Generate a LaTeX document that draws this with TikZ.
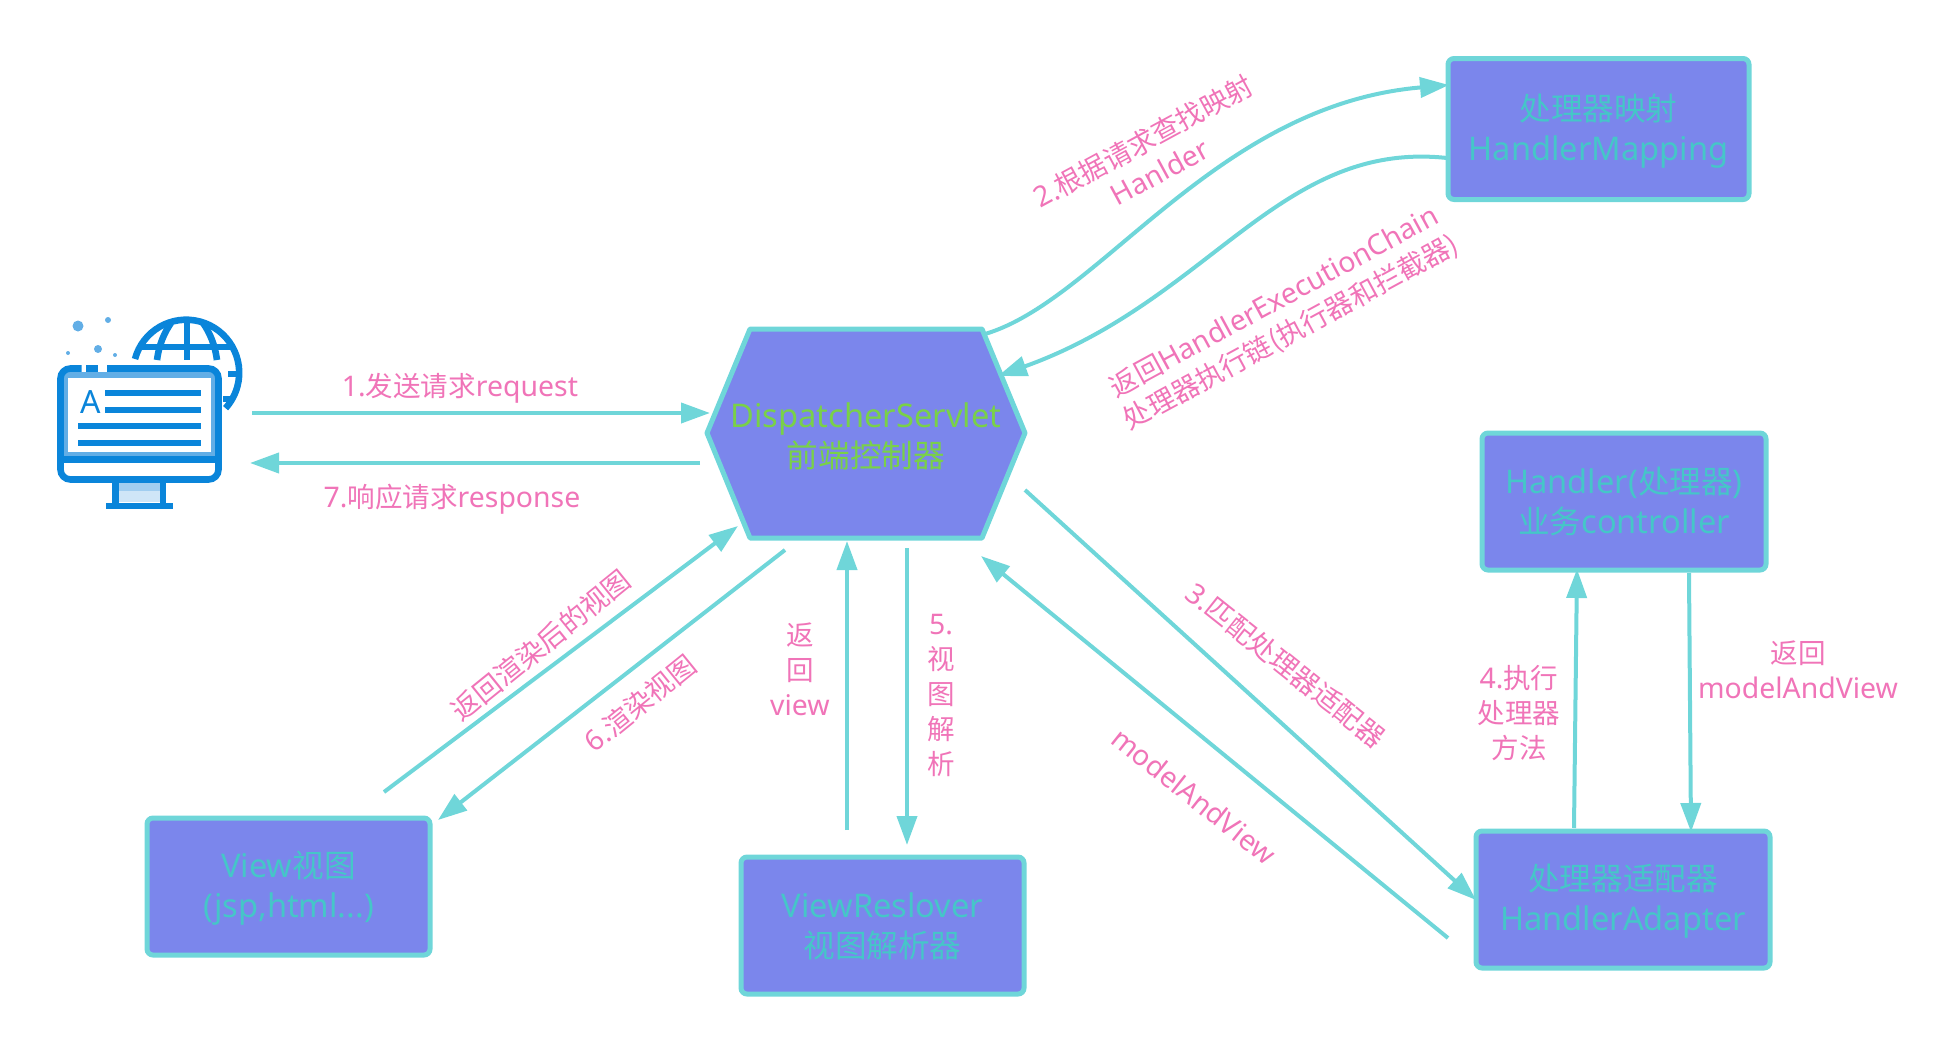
\documentclass[tikz,border=0pt]{standalone}
\usepackage{fontspec}
\setmainfont{Noto Sans}
\newfontfamily\cjk[Scale=0.97]{Noto Sans CJK SC}
\usetikzlibrary{arrows.meta,positioning}
\definecolor{boxfill}{HTML}{7B86EC}
\definecolor{boxline}{HTML}{6FD6D9}
\definecolor{boxtext}{HTML}{45C6C8}
\definecolor{hubtext}{HTML}{79D148}
\definecolor{labeltext}{HTML}{F074B8}
\definecolor{iconblue}{HTML}{0A85DA}
\definecolor{iconmid}{HTML}{62AEE6}
\definecolor{iconpale}{HTML}{CFE6F7}
\newcommand{\twolines}[2]{\rule{0pt}{15pt}#1\\#2\rule[-3pt]{0pt}{3pt}}
\tikzset{
	box/.style = {draw=boxline, line width=2.5pt, fill=boxfill, rounded corners=3pt, text=boxtext, align=center, font=\fontsize{16.3}{20}\selectfont, inner sep=0pt},
	flow/.style = {draw=boxline, line width=2pt, -{Triangle[length=14.5pt,width=10pt]}},
	tag/.style = {text=labeltext, align=center, font=\fontsize{14.2}{17.5}\selectfont, inner sep=0pt},
	iconline/.style = {draw=iconblue, line width=3.3pt},
}
\begin{document}
\begin{tikzpicture}[x=0.5pt,y=-0.5pt]
	\useasboundingbox (0,0) rectangle (1956,1044);
	% boxes
	\node[box, minimum width=150.5pt, minimum height=70.5pt] (mapping) at (1598.5,129) {\twolines{{\cjk 处理器映射}}{HandlerMapping}};
	\node[box, minimum width=142pt, minimum height=68.5pt] (handler) at (1624,501.5) {\twolines{Handler({\cjk 处理器})}{{\cjk 业务}controller}};
	\node[box, minimum width=147pt, minimum height=68.5pt] (adapter) at (1623,899.5) {\twolines{{\cjk 处理器适配器}}{HandlerAdapter}};
	\node[box, minimum width=141.5pt, minimum height=68.5pt] (resolver) at (882.5,925.5) {\twolines{ViewReslover}{{\cjk 视图解析器}}};
	\node[box, minimum width=141.5pt, minimum height=68.5pt] (view) at (288.5,886.5) {\twolines{View{\cjk 视图}}{(jsp,html...)}};
	% hub
	\draw[draw=boxline, line width=2.5pt, fill=boxfill, line join=round] (707,433) -- (750,329) -- (982,329) -- (1025,433) -- (982,538) -- (750,538) -- cycle;
	\node[inner sep=0pt, align=center, text=hubtext, font=\fontsize{16.3}{20}\selectfont] (hub) at (866,436) {DispatcherServlet\\{\cjk 前端控制器}};
	% free ends
	\coordinate (c1a) at (252,413);
	\coordinate (c1b) at (710,413);
	\coordinate (c7a) at (700,463);
	\coordinate (c7b) at (250,463);
	\coordinate (c2a) at (985,334);
	\coordinate (c2b) at (1449,85);
	\coordinate (c2c) at (1447,158);
	\coordinate (c2d) at (998,376);
	\coordinate (c3a) at (1025,490);
	\coordinate (c3b) at (1476,900);
	\coordinate (c3c) at (1448,938);
	\coordinate (c3d) at (981,556);
	\coordinate (c4a) at (1574,828);
	\coordinate (c4b) at (1577,569);
	\coordinate (c4c) at (1689,573);
	\coordinate (c4d) at (1691,832);
	\coordinate (c5a) at (907,548);
	\coordinate (c5b) at (907,845);
	\coordinate (c5c) at (847,830);
	\coordinate (c5d) at (847,541);
	\coordinate (c6a) at (785,550);
	\coordinate (c6b) at (438,820);
	\coordinate (c6c) at (384,792);
	\coordinate (c6d) at (738,526);
	% arrows
	\draw[flow] (c1a) -- (c1b);
	\draw[flow] (c7a) -- (c7b);
	\draw[flow] (c2a) .. controls (1100,300) and (1215,105) .. (c2b);
	\draw[flow] (c2c) .. controls (1280,140) and (1210,300) .. (c2d);
	\draw[flow] (c3a) -- (c3b);
	\draw[flow] (c3c) -- (c3d);
	\draw[flow] (c4a) -- (c4b);
	\draw[flow] (c4c) -- (c4d);
	\draw[flow] (c5a) -- (c5b);
	\draw[flow] (c5c) -- (c5d);
	\draw[flow] (c6a) -- (c6b);
	\draw[flow] (c6c) -- (c6d);
	% labels
	\node[tag] (t1) at (460,388) {1.{\cjk 发送请求}request};
	\node[tag] (t7) at (452,499) {7.{\cjk 响应请求}response};
	\node[tag, rotate=28.5] (t2) at (1151,156) {2.{\cjk 根据请求查找映射}\\Hanlder};
	\node[tag, rotate=28.5] (t2b) at (1283,318) {{\cjk 返回}HandlerExecutionChain\\{\cjk 处理器执行链(执行器和拦截器)}};
	\node[tag, rotate=-38.5] (t3) at (1286,665) {3.{\cjk 匹配处理器适配器}};
	\node[tag, rotate=-38.5] (t3b) at (1194,796) {modelAndView};
	\node[tag] (t4) at (1519,713) {4.{\cjk 执行}\\{\cjk 处理器}\\{\cjk 方法}};
	\node[tag] (t4b) at (1798,670) {{\cjk 返回}\\modelAndView};
	\node[tag] (t5) at (941,695) {5.\\{\cjk 视}\\{\cjk 图}\\{\cjk 解}\\{\cjk 析}};
	\node[tag] (t5b) at (800,669) {{\cjk 返}\\{\cjk 回}\\view};
	\node[tag, rotate=39] (t6) at (640,703) {6.{\cjk 渲染视图}};
	\node[tag, rotate=39] (t6b) at (541,645) {{\cjk 返回渲染后的视图}};
	% client icon
	\fill[iconmid] (78,326) circle (5.5);
	\fill[iconmid] (108,320) circle (3);
	\fill[iconmid] (98,349) circle (4);
	\fill[iconmid] (68,353) circle (2);
	\fill[iconmid] (115,355) circle (2);
	\draw[iconline] (135,359) arc[start angle=-165, end angle=42, radius=53];
	\draw[iconline] (187,322) -- (187,360);
	\draw[iconline] (140,347) -- (232,347);
	\draw[iconline] (157,360) .. controls (159,345) and (164,333) .. (171,323);
	\draw[iconline] (217,360) .. controls (215,345) and (210,333) .. (203,323);
	\draw[iconline] (228,374) -- (240,374);
	\draw[iconline] (223,399) -- (233,399);
	\fill[white] (57,362) rectangle (224,396);
	\fill[iconmid] (63,372) rectangle (216,456);
	\fill[white] (68,378) rectangle (211,452);
	\draw[iconline, rounded corners=5pt] (81.5,368.5) -- (60.5,368.5) -- (60.5,479.5) -- (218.5,479.5) -- (218.5,368.5) -- (107,368.5);
	\draw[iconline] (86,368.5) -- (98,368.5);
	\draw[iconline] (60.5,459.5) -- (218.5,459.5);
	\fill[iconmid!60!white] (117,483) rectangle (163,491);
	\fill[iconpale] (117,491) rectangle (163,502);
	\draw[iconline] (115.5,483) -- (115.5,506);
	\draw[iconline] (163,483) -- (163,506);
	\draw[iconline] (106,506) -- (173,506);
	\foreach \ypos/\xpos in {393/105, 410/105, 426/78, 443/78}
		\draw[iconline] (\xpos,\ypos) -- (201,\ypos);
	\node[text=iconblue, inner sep=0pt, font=\bfseries\fontsize{16}{16}\selectfont] (glyph) at (91,402) {A};
\end{tikzpicture}
\end{document}
